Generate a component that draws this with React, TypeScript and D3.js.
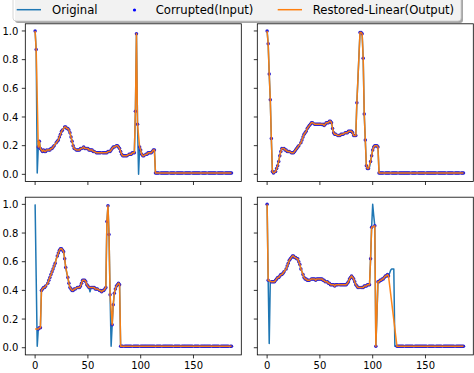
import React from "react";
import * as d3 from "d3";

// ECG beats (original signal), one value per sample 0..186
const tlOrig = [
  1.00, 0.87, 0.01, 0.19, 0.23, 0.18, 0.17, 0.16, 0.17, 0.16,
  0.16, 0.17, 0.17, 0.17, 0.17, 0.18, 0.18, 0.19, 0.20, 0.21,
  0.22, 0.23, 0.24, 0.26, 0.28, 0.30, 0.31, 0.32, 0.33, 0.33,
  0.32, 0.32, 0.31, 0.29, 0.26, 0.23, 0.20, 0.18, 0.17, 0.17,
  0.17, 0.17, 0.17, 0.18, 0.18, 0.18, 0.19, 0.18, 0.18, 0.18,
  0.18, 0.17, 0.17, 0.17, 0.17, 0.16, 0.16, 0.16, 0.15, 0.15,
  0.15, 0.15, 0.15, 0.15, 0.15, 0.15, 0.15, 0.15, 0.15, 0.16,
  0.16, 0.16, 0.17, 0.18, 0.19, 0.19, 0.20, 0.20, 0.20, 0.19,
  0.18, 0.16, 0.14, 0.13, 0.13, 0.13, 0.13, 0.13, 0.13, 0.14,
  0.14, 0.14, 0.15, 0.15, 0.15, 0.44, 0.98, 0.35, 0.00, 0.19,
  0.17, 0.14, 0.13, 0.13, 0.14, 0.14, 0.14, 0.15, 0.15, 0.15,
  0.15, 0.16, 0.17, 0.17,
  0.01, 0.01, 0.01, 0.01, 0.01, 0.01, 0.01, 0.01, 0.01, 0.01,
  0.01, 0.01, 0.01, 0.01, 0.01, 0.01, 0.01, 0.01, 0.01, 0.01,
  0.01, 0.01, 0.01, 0.01, 0.01, 0.01, 0.01, 0.01, 0.01, 0.01,
  0.01, 0.01, 0.01, 0.01, 0.01, 0.01, 0.01, 0.01, 0.01, 0.01,
  0.01, 0.01, 0.01, 0.01, 0.01, 0.01, 0.01, 0.01, 0.01, 0.01,
  0.01, 0.01, 0.01, 0.01, 0.01, 0.01, 0.01, 0.01, 0.01, 0.01,
  0.01, 0.01, 0.01, 0.01, 0.01, 0.01, 0.01, 0.01, 0.01, 0.01,
  0.01, 0.01, 0.01,
];
const tlMissing = [2, 12, 19, 27, 38, 45, 57, 63, 76, 88, 98, 104, 118, 127, 133, 141, 148, 157, 163, 172, 179];

const trOrig = [
  1.00, 0.91, 0.70, 0.52, 0.25, 0.02, 0.01, 0.01, 0.02, 0.04,
  0.06, 0.09, 0.13, 0.16, 0.18, 0.18, 0.18, 0.17, 0.17, 0.16,
  0.16, 0.16, 0.15, 0.15, 0.15, 0.15, 0.16, 0.17, 0.18, 0.19,
  0.20, 0.21, 0.22, 0.24, 0.26, 0.28, 0.29, 0.30, 0.32, 0.33,
  0.34, 0.35, 0.36, 0.36, 0.36, 0.35, 0.35, 0.35, 0.35, 0.35,
  0.35, 0.35, 0.34, 0.35, 0.34, 0.35, 0.36, 0.36, 0.36, 0.37,
  0.37, 0.36, 0.32, 0.29, 0.28, 0.28, 0.27, 0.27, 0.27, 0.27,
  0.28, 0.28, 0.28, 0.28, 0.29, 0.29, 0.29, 0.30, 0.30, 0.30,
  0.30, 0.29, 0.27, 0.27, 0.27, 0.50, 0.66, 0.83, 0.99, 0.99,
  0.98, 0.81, 0.42, 0.24, 0.06, 0.04, 0.04, 0.05, 0.09, 0.13,
  0.17, 0.19, 0.20, 0.20, 0.20, 0.19,
  0.01, 0.01, 0.01, 0.01, 0.01, 0.01, 0.01, 0.01, 0.01, 0.01,
  0.01, 0.01, 0.01, 0.01, 0.01, 0.01, 0.01, 0.01, 0.01, 0.01,
  0.01, 0.01, 0.01, 0.01, 0.01, 0.01, 0.01, 0.01, 0.01, 0.01,
  0.01, 0.01, 0.01, 0.01, 0.01, 0.01, 0.01, 0.01, 0.01, 0.01,
  0.01, 0.01, 0.01, 0.01, 0.01, 0.01, 0.01, 0.01, 0.01, 0.01,
  0.01, 0.01, 0.01, 0.01, 0.01, 0.01, 0.01, 0.01, 0.01, 0.01,
  0.01, 0.01, 0.01, 0.01, 0.01, 0.01, 0.01, 0.01, 0.01, 0.01,
  0.01, 0.01, 0.01, 0.01, 0.01, 0.01, 0.01, 0.01, 0.01, 0.01,
  0.01,
];
const trMissing = [7, 15, 22, 31, 44, 52, 66, 73, 86, 87, 97, 111, 117, 124, 136, 142, 150, 161, 170, 177, 183];

const blOrig = [
  1.00, 0.50, 0.01, 0.13, 0.14, 0.14, 0.40, 0.41, 0.42, 0.42,
  0.43, 0.44, 0.45, 0.47, 0.49, 0.51, 0.53, 0.55, 0.57, 0.59,
  0.62, 0.64, 0.66, 0.68, 0.69, 0.69, 0.68, 0.67, 0.62, 0.56,
  0.52, 0.49, 0.45, 0.42, 0.41, 0.40, 0.40, 0.41, 0.41, 0.41,
  0.42, 0.42, 0.42, 0.43, 0.45, 0.47, 0.47, 0.47, 0.46, 0.44,
  0.43, 0.42, 0.39, 0.42, 0.42, 0.42, 0.42, 0.41, 0.41, 0.41,
  0.40, 0.40, 0.40, 0.39, 0.40, 0.40, 0.41, 0.42, 0.88, 0.99,
  0.79, 0.37, 0.01, 0.16, 0.30, 0.38, 0.41, 0.43, 0.44, 0.45,
  0.44,
  0.01, 0.01, 0.01, 0.01, 0.01, 0.01, 0.01, 0.01, 0.01, 0.01,
  0.01, 0.01, 0.01, 0.01, 0.01, 0.01, 0.01, 0.01, 0.01, 0.01,
  0.01, 0.01, 0.01, 0.01, 0.01, 0.01, 0.01, 0.01, 0.01, 0.01,
  0.01, 0.01, 0.01, 0.01, 0.01, 0.01, 0.01, 0.01, 0.01, 0.01,
  0.01, 0.01, 0.01, 0.01, 0.01, 0.01, 0.01, 0.01, 0.01, 0.01,
  0.01, 0.01, 0.01, 0.01, 0.01, 0.01, 0.01, 0.01, 0.01, 0.01,
  0.01, 0.01, 0.01, 0.01, 0.01, 0.01, 0.01, 0.01, 0.01, 0.01,
  0.01, 0.01, 0.01, 0.01, 0.01, 0.01, 0.01, 0.01, 0.01, 0.01,
  0.01, 0.01, 0.01, 0.01, 0.01, 0.01, 0.01, 0.01, 0.01, 0.01,
  0.01, 0.01, 0.01, 0.01, 0.01, 0.01, 0.01, 0.01, 0.01, 0.01,
  0.01, 0.01, 0.01, 0.01, 0.01, 0.01,
];
const blMissing = [0, 1, 2, 11, 20, 30, 39, 52, 60, 72, 84, 92, 99, 114, 120, 131, 138, 150, 156, 167, 175, 184];

const brOrig = [
  1.00, 0.47, 0.03, 0.46, 0.46, 0.46, 0.46, 0.46, 0.47, 0.48,
  0.49, 0.49, 0.50, 0.51, 0.51, 0.52, 0.53, 0.54, 0.55, 0.57,
  0.59, 0.61, 0.62, 0.63, 0.64, 0.64, 0.63, 0.63, 0.62, 0.62,
  0.60, 0.58, 0.55, 0.53, 0.51, 0.49, 0.48, 0.48, 0.47, 0.47,
  0.47, 0.47, 0.48, 0.48, 0.48, 0.48, 0.47, 0.48, 0.48, 0.48,
  0.48, 0.48, 0.48, 0.47, 0.47, 0.46, 0.46, 0.46, 0.45, 0.45,
  0.44, 0.44, 0.44, 0.44, 0.43, 0.44, 0.44, 0.44, 0.44, 0.44,
  0.44, 0.44, 0.44, 0.44, 0.44, 0.44, 0.45, 0.46, 0.48, 0.49,
  0.50, 0.49, 0.48, 0.46, 0.44, 0.43, 0.42, 0.42, 0.42, 0.42,
  0.42, 0.42, 0.43, 0.43, 0.43, 0.44, 0.44, 0.44, 0.62, 0.84,
  1.00, 0.92, 0.85, 0.01, 0.22, 0.46, 0.46, 0.47, 0.47, 0.48,
  0.48, 0.49, 0.50, 0.50, 0.51, 0.50, 0.52, 0.54, 0.55, 0.55,
  0.55,
  0.01, 0.01, 0.01, 0.01, 0.01, 0.01, 0.01, 0.01, 0.01, 0.01,
  0.01, 0.01, 0.01, 0.01, 0.01, 0.01, 0.01, 0.01, 0.01, 0.01,
  0.01, 0.01, 0.01, 0.01, 0.01, 0.01, 0.01, 0.01, 0.01, 0.01,
  0.01, 0.01, 0.01, 0.01, 0.01, 0.01, 0.01, 0.01, 0.01, 0.01,
  0.01, 0.01, 0.01, 0.01, 0.01, 0.01, 0.01, 0.01, 0.01, 0.01,
  0.01, 0.01, 0.01, 0.01, 0.01, 0.01, 0.01, 0.01, 0.01, 0.01,
  0.01, 0.01, 0.01, 0.01, 0.01, 0.01,
];
const brMissing = [2, 3, 17, 33, 41, 56, 68, 88, 100, 101, 104, 116, 117, 118, 119, 120, 121, 122, 130, 139, 152, 159, 166, 178];

const xTicks = [0, 50, 100, 150];
const yTicks = [0, 0.2, 0.4, 0.6, 0.8, 1.0];
const legendLabels = ["Original", "Corrupted(Input)", "Restored-Linear(Output)"];

const BLUE = "#1f77b4";
const ORANGE = "#ff7f0e";
const FONT = "DejaVu Sans, sans-serif";

// linear fill of the missing samples, constant past the ends
function restore(orig: number[], missing: number[]) {
  const miss = new Set(missing);
  const known = orig.map((_, i) => i).filter((i) => !miss.has(i));
  return orig.map((v, i) => {
    if (!miss.has(i)) return v;
    const hi = known.find((k) => k > i);
    const lo = [...known].reverse().find((k) => k < i);
    if (lo === undefined) return orig[hi as number];
    if (hi === undefined) return orig[lo];
    return orig[lo] + ((orig[hi] - orig[lo]) * (i - lo)) / (hi - lo);
  });
}

const panels = [
  { orig: tlOrig, missing: tlMissing, left: 25.3, top: 23.8, xLabels: false, yLabels: true },
  { orig: trOrig, missing: trMissing, left: 257.3, top: 23.8, xLabels: false, yLabels: false },
  { orig: blOrig, missing: blMissing, left: 25.3, top: 197.2, xLabels: true, yLabels: true },
  { orig: brOrig, missing: brMissing, left: 257.3, top: 197.2, xLabels: true, yLabels: false },
];
const PW = 216;
const PH = 157.7;

function Panel({ p }: { p: (typeof panels)[number] }) {
  const x = d3.scaleLinear().domain([-9.3, 195.3]).range([p.left, p.left + PW]);
  const y = d3.scaleLinear().domain([-0.05, 1.05]).range([p.top + PH, p.top]);
  const line = d3
    .line<number>()
    .x((_, i) => x(i))
    .y((d) => y(d));
  const miss = new Set(p.missing);
  const restored = restore(p.orig, p.missing);
  const bottom = p.top + PH;
  return (
    <g>
      <path d={line(p.orig) ?? ""} fill="none" stroke={BLUE} strokeWidth={1.5} strokeLinejoin="round" />
      {p.orig.map((v, i) =>
        miss.has(i) ? null : <circle key={i} cx={x(i)} cy={y(v)} r={1.75} fill="#2a1fd0" />
      )}
      <path d={line(restored) ?? ""} fill="none" stroke={ORANGE} strokeWidth={1.5} strokeLinejoin="round" strokeOpacity={0.95} />
      <rect x={p.left} y={p.top} width={PW} height={PH} fill="none" stroke="#000" strokeWidth={0.8} />
      {xTicks.map((t) => (
        <g key={t}>
          <line x1={x(t)} x2={x(t)} y1={bottom} y2={bottom + 3.5} stroke="#000" strokeWidth={0.8} />
          {p.xLabels && (
            <text x={x(t)} y={bottom + 14.5} textAnchor="middle" fontSize={10} fontFamily={FONT}>
              {t}
            </text>
          )}
        </g>
      ))}
      {yTicks.map((t) => (
        <g key={t}>
          <line x1={p.left - 3.5} x2={p.left} y1={y(t)} y2={y(t)} stroke="#000" strokeWidth={0.8} />
          {p.yLabels && (
            <text x={p.left - 7} y={y(t) + 3.6} textAnchor="end" fontSize={10} fontFamily={FONT}>
              {t.toFixed(1)}
            </text>
          )}
        </g>
      ))}
    </g>
  );
}

function Legend() {
  const items = [
    { label: legendLabels[0], hx: 16.7, tx: 52, kind: "line", color: BLUE },
    { label: legendLabels[1], hx: 122.7, tx: 155.7, kind: "dot", color: "#0000ff" },
    { label: legendLabels[2], hx: 277.7, tx: 312.7, kind: "line", color: ORANGE },
  ];
  return (
    <g fontFamily={FONT}>
      <rect x={15} y={-8} width={448} height={31} rx={3} fill="#000" opacity={0.35} />
      <rect x={13} y={-10} width={448} height={31} rx={3} fill="#fff" fillOpacity={0.85} stroke="#cccccc" strokeWidth={0.8} />
      {items.map((it) => (
        <g key={it.label}>
          {it.kind === "line" ? (
            <line x1={it.hx} x2={it.hx + 24.3} y1={9.7} y2={9.7} stroke={it.color} strokeWidth={1.5} />
          ) : (
            <circle cx={it.hx + 11.8} cy={10} r={1.6} fill={it.color} />
          )}
          <text x={it.tx} y={13.6} fontSize={11.65}>
            {it.label}
          </text>
        </g>
      ))}
    </g>
  );
}

export default function App() {
  return (
    <svg
      width={474}
      height={373}
      style={{ position: "absolute", left: 0, top: 0, background: "#fff" }}
    >
      {panels.map((p, i) => (
        <Panel key={i} p={p} />
      ))}
      <Legend />
    </svg>
  );
}
